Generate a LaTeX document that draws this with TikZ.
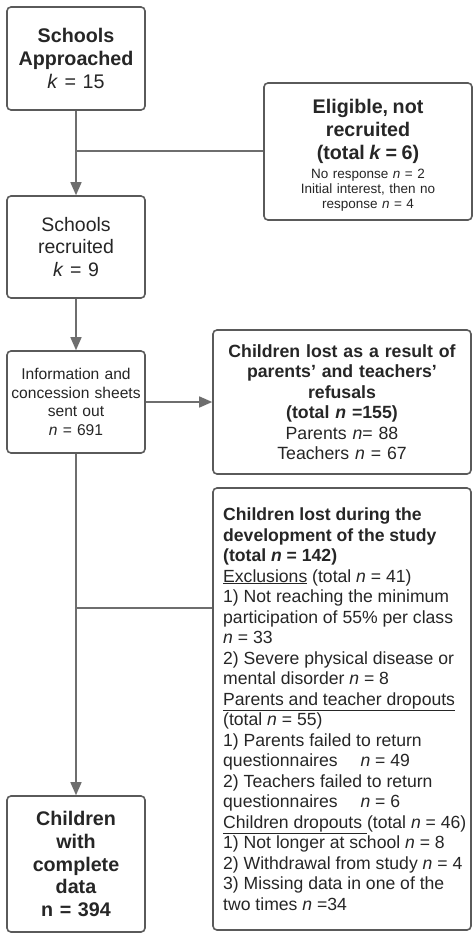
\documentclass[tikz,border=0pt]{standalone}
\usepackage{fontspec}
\setmainfont{Liberation Sans}
\usetikzlibrary{arrows.meta}
\definecolor{boxgray}{HTML}{5A5A5A}
\definecolor{linegray}{HTML}{6E6E6E}
\definecolor{txt}{HTML}{262626}
\begin{document}
\begin{tikzpicture}[x=1pt,y=-1pt,
  box/.style={draw=boxgray, line width=1.6pt, rounded corners=4pt, fill=white, text=txt, align=center, inner sep=0pt},
  conn/.style={draw=linegray, line width=1.5pt},
  arr/.style={conn, -{Triangle[length=13pt,width=11pt]}}]
\useasboundingbox[fill=white] (0,0) rectangle (474,934);

\node[box, minimum width=138pt, minimum height=103pt, text width=134pt,
      font={\fontsize{19.7}{23}\selectfont}] (appr) at (76,58.5)
  {\bfseries Schools\\ Approached\\ \mdseries\textit{k} = 15};

\node[box, minimum width=208pt, minimum height=137pt, text width=204pt,
      font={\fontsize{13.5}{15.2}\selectfont}] (elig) at (368,151.5)
  {{\fontsize{19.7}{23}\selectfont\bfseries Eligible, not\\ recruited\\ (total \textit{k} = 6)\par}\vspace{3pt}%
   No response \textit{n} = 2\\ Initial interest, then no\\ response \textit{n} = 4\par\vspace{-8pt}};

\node[box, minimum width=138pt, minimum height=102pt, text width=134pt,
      font={\fontsize{19.5}{22.5}\selectfont}] (recr) at (76,247)
  {Schools\\ recruited\\ \textit{k} = 9};

\node[box, minimum width=138pt, minimum height=102pt, text width=136pt,
      font={\fontsize{15.6}{18.5}\selectfont}] (info) at (76,402)
  {Information and\\ concession sheets\\ sent out\\ \textit{n} = 691};

\node[box, minimum width=258pt, minimum height=144pt, text width=250pt,
      font={\fontsize{17.7}{20.5}\selectfont}] (lost1) at (342,402)
  {\bfseries Children lost as a result of\\ parents' and teachers'\\ refusals\\ (total \textit{n} =155)\\
   \mdseries Parents \textit{n}= 88\\ Teachers \textit{n} = 67};

\node[box, minimum width=258pt, minimum height=442pt] (lost2) at (342,709) {};
\node[text=txt, align=left, inner sep=0pt, anchor=west,
      font={\fontsize{17.6}{20.5}\selectfont}] (lost2text) at (223,709)
  {\textbf{Children lost during the}\\ \textbf{development of the study}\\ \textbf{(total \textit{n} = 142)}\\
   \underline{Exclusions} (total \textit{n} = 41)\\
   1) Not reaching the minimum\\ participation of 55\% per class\\ \textit{n} = 33\\
   2) Severe physical disease or\\ mental disorder \textit{n} = 8\\
   \underline{Parents and teacher dropouts}\\ (total \textit{n} = 55)\\
   1) Parents failed to return\\ questionnaires\hspace{1.3em}\textit{n} = 49\\
   2) Teachers failed to return\\ questionnaires\hspace{1.3em}\textit{n} = 6\\
   \underline{Children dropouts\ }(total \textit{n} = 46)\\
   1) Not longer at school \textit{n} = 8\\
   2) Withdrawal from study \textit{n} = 4\\
   3) Missing data in one of the\\ two times \textit{n} =34};

\node[box, minimum width=138pt, minimum height=136pt, text width=134pt,
      font={\fontsize{19.7}{22.8}\selectfont}] (final) at (76,864)
  {\bfseries Children\\ with\\ complete\\ data\\ n = 394};

\coordinate (j1) at (76,151);
\coordinate (j2) at (76,608);

\draw[arr] (appr.south) -- (recr.north);
\draw[conn] (j1) -- (j1 -| elig.west);
\draw[arr] (recr.south) -- (info.north);
\draw[arr] (info.east) -- (info.east -| lost1.west);
\draw[arr] (info.south) -- (final.north);
\draw[conn] (j2) -- (j2 -| lost2.west);
\end{tikzpicture}
\end{document}
